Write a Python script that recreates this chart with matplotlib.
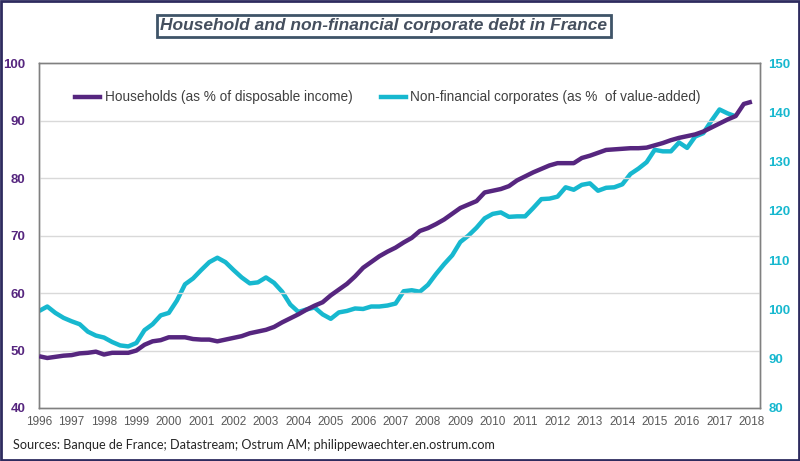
import numpy as np
import matplotlib.pyplot as plt
from matplotlib.patches import Rectangle
from matplotlib.lines import Line2D

# quarterly data, 1996Q1 onwards
households = [49.0, 48.7, 48.9, 49.1, 49.2, 49.5, 49.6, 49.8, 49.3, 49.6,
              49.6, 49.6, 50.0, 51.0, 51.6, 51.8, 52.3, 52.3, 52.3, 52.0,
              51.9, 51.9, 51.6, 51.9, 52.2, 52.5, 53.0, 53.3, 53.6, 54.1,
              54.9, 55.6, 56.3, 57.1, 57.8, 58.4, 59.6, 60.6, 61.6, 62.9,
              64.4, 65.4, 66.4, 67.2, 67.9, 68.8, 69.6, 70.8, 71.3, 72.0,
              72.8, 73.8, 74.8, 75.4, 76.0, 77.5, 77.8, 78.1, 78.6, 79.6,
              80.3, 81.0, 81.6, 82.2, 82.6, 82.6, 82.6, 83.5, 83.9, 84.4,
              84.9, 85.0, 85.1, 85.2, 85.2, 85.3, 85.7, 86.1, 86.6, 87.0,
              87.3, 87.6, 88.1, 88.8, 89.5, 90.2, 90.8, 92.9, 93.3]
corporates = [99.7, 100.6, 99.3, 98.3, 97.6, 97.0, 95.5, 94.7, 94.3, 93.4,
              92.7, 92.5, 93.2, 95.8, 97.0, 98.8, 99.3, 101.8, 105.1, 106.3,
              108.0, 109.6, 110.5, 109.6, 108.0, 106.5, 105.3, 105.5, 106.5, 105.4,
              103.6, 101.0, 99.5, 100.0, 100.4, 99.0, 98.1, 99.4, 99.7, 100.2,
              100.1, 100.6, 100.6, 100.8, 101.2, 103.7, 103.9, 103.6, 105.0, 107.2,
              109.2, 111.0, 113.7, 115.0, 116.6, 118.5, 119.4, 119.7, 118.8, 118.9,
              118.9, 120.6, 122.4, 122.5, 122.9, 124.8, 124.3, 125.3, 125.6, 124.1,
              124.7, 124.8, 125.4, 127.5, 128.6, 129.9, 132.4, 132.1, 132.1, 133.9,
              132.8, 135.1, 135.8, 138.3, 140.6, 139.8, 139.2]
years = list(range(1996, 2019))

x_h = 1996 + np.arange(len(households)) / 4
x_c = 1996 + np.arange(len(corporates)) / 4

purple = '#56267f'
cyan = '#17b8cf'

fig = plt.figure(figsize=(8, 4.61), dpi=100)
ax = fig.add_axes([0.049, 0.115, 0.901, 0.748])
ax2 = ax.twinx()

ax.plot(x_h, households, color=purple, lw=3.2, solid_capstyle='butt', zorder=3)
ax2.plot(x_c, corporates, color=cyan, lw=3.2, solid_capstyle='butt', zorder=2)
ax.set_zorder(ax2.get_zorder() + 1)
ax.patch.set_visible(False)

ax.set_xlim(1996, 2018.25)
ax.set_ylim(40, 100)
ax2.set_ylim(80, 150)
ax.set_xticks(years)
ax.set_xticklabels([str(y) for y in years], color='#595959', fontsize=8.5,
                   family='Liberation Sans')
ax.set_yticks(range(40, 101, 10))
ax.set_yticklabels([str(v) for v in range(40, 101, 10)], color=purple,
                   fontsize=9.5, fontweight='bold', family='Liberation Sans')
ax2.set_yticks(range(80, 151, 10))
ax2.set_yticklabels([str(v) for v in range(80, 151, 10)], color=cyan,
                    fontsize=9.5, fontweight='bold', family='Liberation Sans')
ax.tick_params(axis='both', length=0, pad=6)
ax2.tick_params(axis='y', length=0, pad=6)
ax.tick_params(axis='y', pad=10)
for y in range(50, 100, 10):
    ax.axhline(y, color='#d9d9d9', lw=1, zorder=0)
for a in (ax, ax2):
    for s in a.spines.values():
        s.set_color('#808080')
        s.set_linewidth(1)

handles = [Line2D([], [], color=purple, lw=3.2),
           Line2D([], [], color=cyan, lw=3.2)]
labels = ['Households (as % of disposable income)',
          'Non-financial corporates (as %  of value-added)']
ax.legend(handles, labels, loc='center left', bbox_to_anchor=(0.033, 0.901),
          ncol=2, frameon=False, handlelength=1.85, handletextpad=0.3,
          columnspacing=2.1, prop={'family': 'Liberation Sans', 'size': 9.8},
          labelcolor='#404040')

fig.text(0.48, 0.944, 'Household and non-financial corporate debt in France',
         ha='center', va='center', fontsize=12.5, fontweight='bold',
         style='italic', color='#454f5e', family='Liberation Sans',
         bbox=dict(boxstyle='square,pad=0.2', fc='white', ec='#3f5468', lw=2))
fig.text(0.016, 0.035,
         'Sources: Banque de France; Datastream; Ostrum AM; philippewaechter.en.ostrum.com',
         ha='left', va='center', fontsize=9.1, color='#262626', family='Lato')

fig.patches.append(Rectangle((0.0015, 0.0025), 0.997, 0.995, transform=fig.transFigure,
                             fill=False, ec='#2e2b5f', lw=2))

fig.savefig('out.png', dpi=100)
